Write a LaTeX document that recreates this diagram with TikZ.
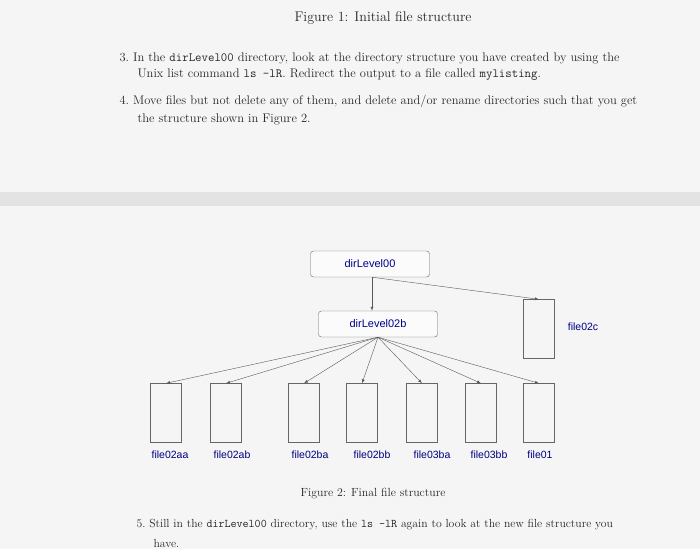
\documentclass[tikz,border=0pt]{standalone}
\usepackage{fontspec}
\newfontfamily\sansf{Liberation Sans}
\begin{document}
\begin{tikzpicture}[x=1pt,y=-1pt,
  dirbox/.style={draw=black!60,rounded corners=3pt,minimum width=119pt,minimum height=26pt,inner sep=0pt,font=\sansf\fontsize{11}{12}\selectfont,text=blue!55!black,fill=white!97!gray},
  filebox/.style={draw=black!60,minimum width=31pt,minimum height=59pt,inner sep=0pt},
  lab/.style={font=\sansf\fontsize{10.5}{12}\selectfont,text=blue!50!black},
  conn/.style={draw=black!65,-latex,thin},
  txt/.style={font=\fontsize{12.5}{14}\selectfont,anchor=west,text=black!85}]
\useasboundingbox (0,0) rectangle (700,549);
\fill[gray!8] (0,0) rectangle (700,549);
\fill[gray!22] (0,192) rectangle (700,206);
\node[font=\fontsize{14}{16}\selectfont,text=black!85] (f1) at (383,18) {Figure 1: Initial file structure};
\node[txt] (t3a) at (116,58) {3.\ In the \texttt{dirLevel00} directory, look at the directory structure you have created by using the};
\node[txt] (t3b) at (134,75) {Unix list command \texttt{ls -lR}. Redirect the output to a file called \texttt{mylisting}.};
\node[txt] (t4a) at (116,101) {4.\ Move files but not delete any of them, and delete and/or rename directories such that you get};
\node[txt] (t4b) at (134,119) {the structure shown in Figure 2.};

\node[dirbox] (d0) at (370,264) {dirLevel00};
\node[dirbox] (d2) at (378,324) {dirLevel02b};
\node[filebox] (c) at (539,329) {};
\node[lab] (cl) at (583,327) {file02c};
\foreach \n/\x/\l/\lx in {a/166/file02aa/170, b/226/file02ab/232, c2/304/file02ba/310, d/362/file02bb/372, e/422/file03ba/432, f/481/file03bb/489, g/539/file01/540}{
  \node[filebox] (\n) at (\x,413) {};
  \node[lab] (\n l) at (\lx,455) {\l};
  \draw[conn] (d2.south) -- (\n.north);
}
\draw[conn] ([xshift=2pt]d0.south) -- ([xshift=2pt]d0.south |- d2.north);
\draw[conn] ([xshift=2pt]d0.south) -- (c.north);
\node[font=\fontsize{11.8}{14}\selectfont,text=black!85] (f2) at (373,494) {Figure 2: Final file structure};
\node[txt,font=\fontsize{11.7}{14}\selectfont] (t5a) at (133,525) {5.\ Still in the \texttt{dirLevel00} directory, use the \texttt{ls -lR} again to look at the new file structure you};
\node[txt,font=\fontsize{11.7}{14}\selectfont] (t5b) at (150,543) {have.};
\end{tikzpicture}
\end{document}
